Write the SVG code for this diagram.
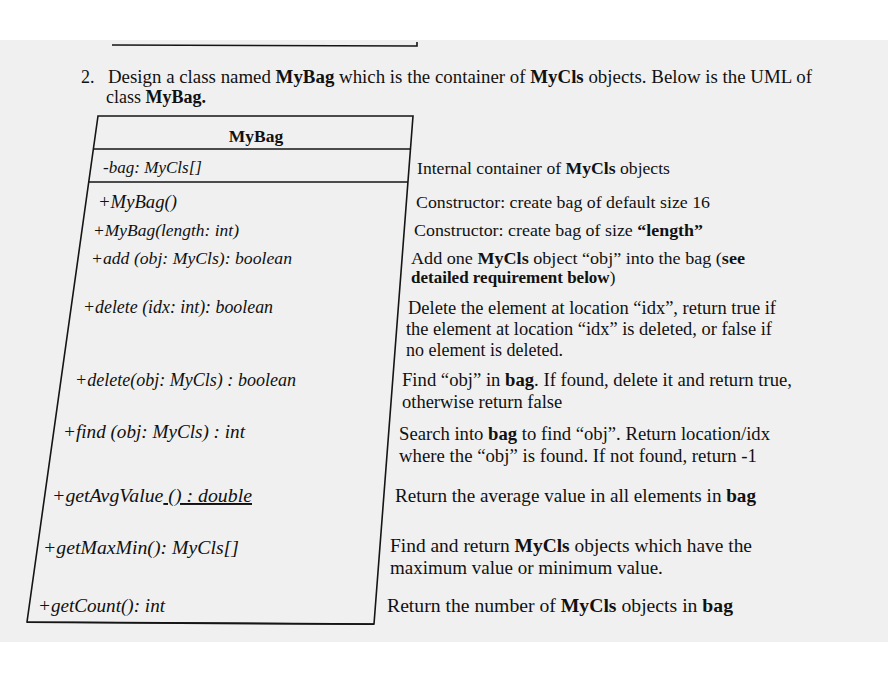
<svg xmlns="http://www.w3.org/2000/svg" width="888" height="687" viewBox="0 0 888 687">
  <style>
    .t { font-family: "Liberation Serif", "Times New Roman", serif; fill: #111; }
    .i { font-style: italic; }
    .b { font-weight: bold; }
    .ln { stroke: #151515; stroke-width: 1.6; fill: none; }
  </style>
  <rect x="0" y="0" width="888" height="687" fill="#ffffff"/>
  <rect x="0" y="40" width="888" height="602" fill="#f0f0f0"/>

  <g id="rule">
    <path class="ln" d="M112 45 L417 46 L417 42"/>
  </g>

  <g id="title" class="t" font-size="18">
    <text x="81" y="83">2.</text>
    <text x="108" y="83" textLength="704" lengthAdjust="spacingAndGlyphs">Design a class named <tspan class="b">MyBag</tspan> which is the container of <tspan class="b">MyCls</tspan> objects. Below is the UML of</text>
    <text x="106" y="103">class <tspan class="b">MyBag.</tspan></text>
  </g>

  <g id="MyBag">
    <path class="ln" d="M98 116 L413 116 L374 624 L27 622 Z"/>
    <path class="ln" d="M27 622.3 L374 624.3" stroke-width="1"/>
    <path class="ln" d="M93.4 149 L410.5 149"/>
    <path class="ln" d="M88.7 182 L408 182"/>
    <text class="t b" font-size="17.5" x="256" y="142" text-anchor="middle">MyBag</text>
    <text class="t i" font-size="17.5" x="103" y="173" textLength="99" lengthAdjust="spacingAndGlyphs">-bag: MyCls[]</text>
    <text class="t i" font-size="18" x="98" y="208" textLength="79" lengthAdjust="spacingAndGlyphs">+MyBag()</text>
    <text class="t i" font-size="17.5" x="93" y="236" textLength="146" lengthAdjust="spacingAndGlyphs">+MyBag(length: int)</text>
    <text class="t i" font-size="17.7" x="91" y="264" textLength="201" lengthAdjust="spacingAndGlyphs">+add (obj: MyCls): boolean</text>
    <text class="t i" font-size="18" x="83" y="313" textLength="190" lengthAdjust="spacingAndGlyphs">+delete (idx: int): boolean</text>
    <text class="t i" font-size="18" x="75" y="386" textLength="221" lengthAdjust="spacingAndGlyphs">+delete(obj: MyCls) : boolean</text>
    <text class="t i" font-size="19" x="63" y="438" textLength="182" lengthAdjust="spacingAndGlyphs">+find (obj: MyCls) : int</text>
    <text class="t i" font-size="19.5" x="52" y="502" textLength="200" lengthAdjust="spacingAndGlyphs">+getAvgValue<tspan text-decoration="underline"> () : double</tspan></text>
    <text class="t i" font-size="19.5" x="43" y="554" textLength="196" lengthAdjust="spacingAndGlyphs">+getMaxMin(): MyCls[]</text>
    <text class="t i" font-size="19" x="38" y="612" textLength="127" lengthAdjust="spacingAndGlyphs">+getCount(): int</text>
  </g>

  <g id="desc-bag" class="t" font-size="17.5">
    <text x="417" y="174" textLength="253" lengthAdjust="spacingAndGlyphs">Internal container of <tspan class="b">MyCls</tspan> objects</text>
  </g>
  <g id="desc-ctor" class="t" font-size="17.5">
    <text x="416" y="208" textLength="294" lengthAdjust="spacingAndGlyphs">Constructor: create bag of default size 16</text>
  </g>
  <g id="desc-ctor-len" class="t" font-size="17.5">
    <text x="414" y="236" textLength="289" lengthAdjust="spacingAndGlyphs">Constructor: create bag of size <tspan class="b">“length”</tspan></text>
  </g>
  <g id="desc-add" class="t" font-size="17">
    <text x="411" y="264" textLength="334" lengthAdjust="spacingAndGlyphs">Add one <tspan class="b">MyCls</tspan> object “obj” into the bag (<tspan class="b">see</tspan></text>
    <text x="411" y="283"><tspan class="b">detailed requirement below</tspan>)</text>
  </g>
  <g id="desc-delete-idx" class="t" font-size="18">
    <text x="408" y="314" textLength="368" lengthAdjust="spacingAndGlyphs">Delete the element at location “idx”, return true if</text>
    <text x="406" y="335" textLength="366" lengthAdjust="spacingAndGlyphs">the element at location “idx” is deleted, or false if</text>
    <text x="406" y="356">no element is deleted.</text>
  </g>
  <g id="desc-delete-obj" class="t" font-size="18.5">
    <text x="402" y="386" textLength="390" lengthAdjust="spacingAndGlyphs">Find “obj” in <tspan class="b">bag</tspan>. If found, delete it and return true,</text>
    <text x="402" y="408">otherwise return false</text>
  </g>
  <g id="desc-find" class="t" font-size="18.5">
    <text x="399" y="440" textLength="371" lengthAdjust="spacingAndGlyphs">Search into <tspan class="b">bag</tspan> to find “obj”. Return location/idx</text>
    <text x="399" y="462" textLength="358" lengthAdjust="spacingAndGlyphs">where the “obj” is found. If not found, return -1</text>
  </g>
  <g id="desc-avg" class="t" font-size="19">
    <text x="395" y="502" textLength="361" lengthAdjust="spacingAndGlyphs">Return the average value in all elements in <tspan class="b">bag</tspan></text>
  </g>
  <g id="desc-maxmin" class="t" font-size="19">
    <text x="390" y="552" textLength="362" lengthAdjust="spacingAndGlyphs">Find and return <tspan class="b">MyCls</tspan> objects which have the</text>
    <text x="390" y="574">maximum value or minimum value.</text>
  </g>
  <g id="desc-count" class="t" font-size="19.5">
    <text x="387" y="612" textLength="346" lengthAdjust="spacingAndGlyphs">Return the number of <tspan class="b">MyCls</tspan> objects in <tspan class="b">bag</tspan></text>
  </g>
</svg>
